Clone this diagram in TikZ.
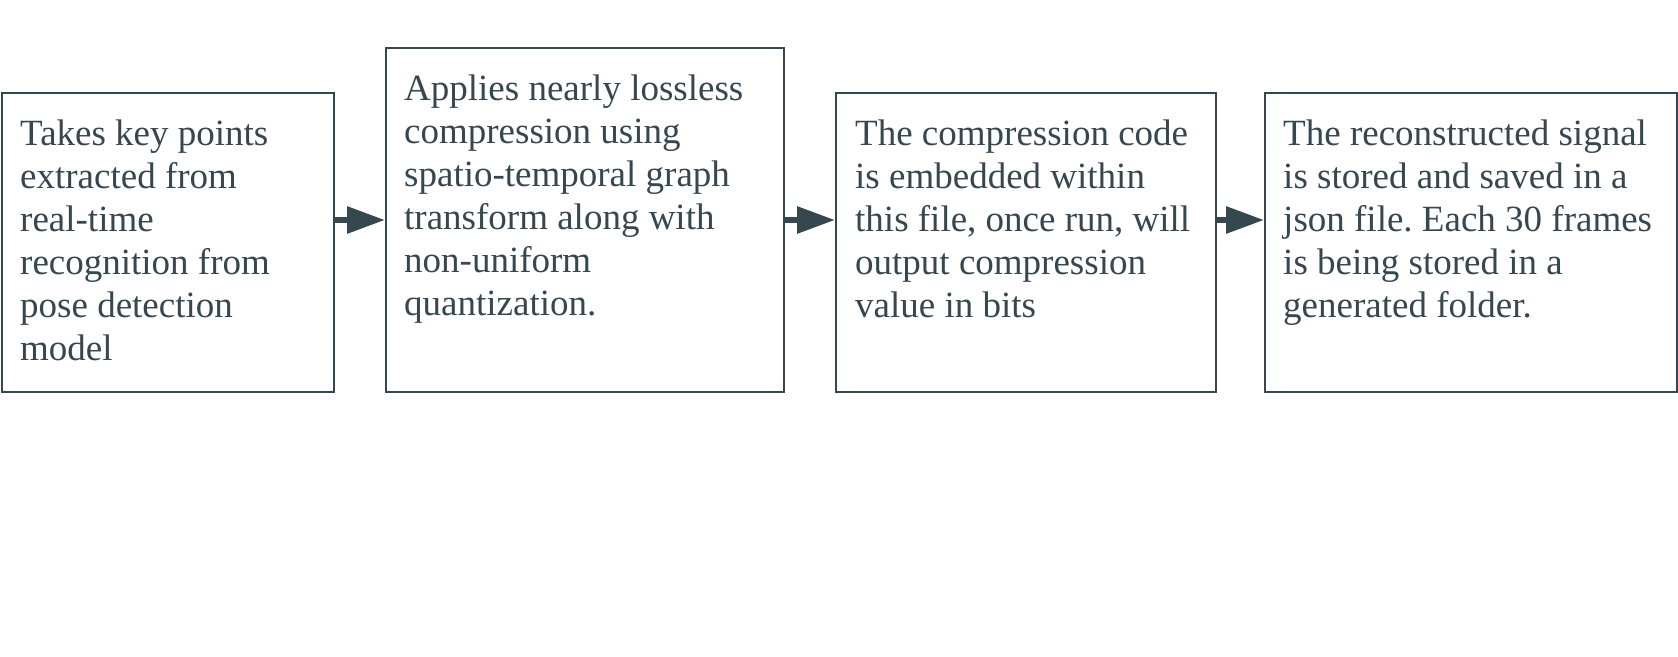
\documentclass[tikz,border=0pt]{standalone}
\usepackage{fontspec}
\setmainfont{Liberation Serif}
\usetikzlibrary{arrows.meta}
\definecolor{ink}{HTML}{37474F}
\begin{document}
\frenchspacing
\begin{tikzpicture}[x=1pt,y=-1pt,
  box/.style={draw=ink, line width=2pt, rectangle, inner sep=0pt, anchor=north west},
  txt/.style={text=ink, inner sep=0pt, anchor=base west, align=left,
    font=\fontsize{37pt}{43pt}\selectfont\frenchspacing},
  arr/.style={draw=ink, line width=6pt, -{Triangle[length=38pt,width=26pt]}, ink}]
\useasboundingbox[fill=white] (0,0) rectangle (1678,656);
\node[box, minimum width=332pt, minimum height=299pt] (b1) at (1,92) {};
\node[box, minimum width=398pt, minimum height=344pt] (b2) at (385,47) {};
\node[box, minimum width=380pt, minimum height=299pt] (b3) at (835,92) {};
\node[box, minimum width=412pt, minimum height=299pt] (b4) at (1264,92) {};
\node[txt] (t1) at ([shift={(19,268)}]b1.north west) {Takes key points\\extracted from\\real-time\\recognition from\\pose detection\\model};
\node[txt] (t2) at ([shift={(19,268)}]b2.north west) {Applies nearly lossless\\compression using\\spatio-temporal graph\\transform along with\\non-uniform\\quantization.};
\node[txt] (t3) at ([shift={(20,225)}]b3.north west) {The compression code\\is embedded within\\this file, once run, will\\output compression\\value in bits};
\node[txt] (t4) at ([shift={(19,225)}]b4.north west) {The reconstructed signal\\is stored and saved in a\\json file. Each 30 frames\\is being stored in a\\generated folder.};
\draw[arr] (b1.east |- b2.center) -- (b2.west);
\draw[arr] (b2.east) -- (b3.west |- b2.center);
\draw[arr] (b3.east |- b2.center) -- (b4.west |- b2.center);
\end{tikzpicture}
\end{document}
